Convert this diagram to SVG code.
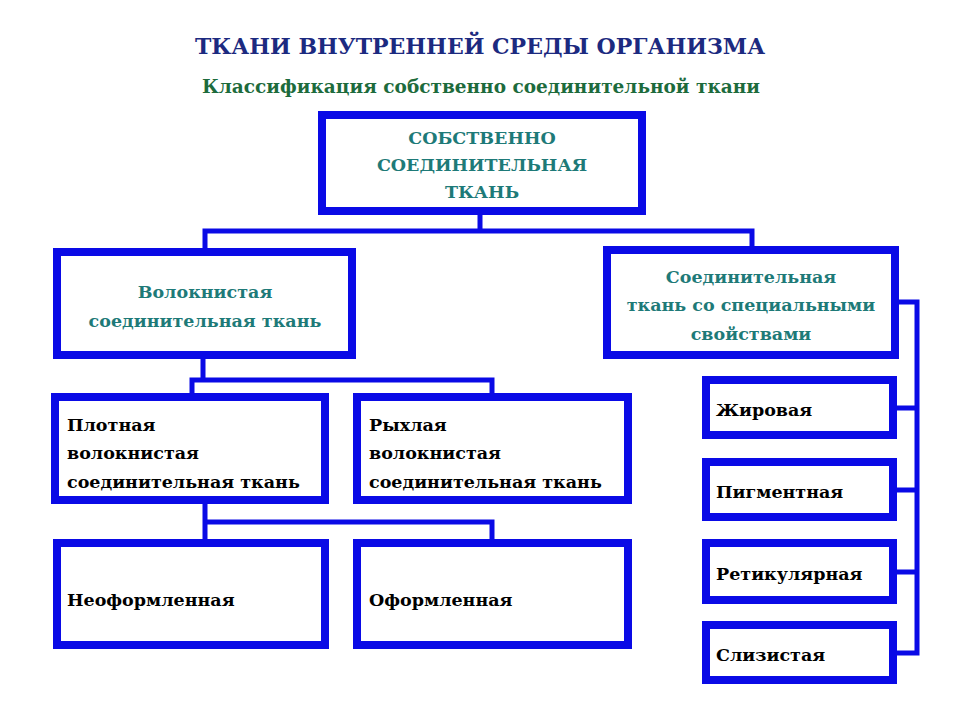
<svg xmlns="http://www.w3.org/2000/svg" width="960" height="720" viewBox="0 0 960 720">
<style>
.b{fill:#fff;stroke:#0a0ae6;stroke-width:8}
.c{fill:none;stroke:#0a0ae6;stroke-width:5}
text{font-family:"DejaVu Serif","Liberation Serif",serif;font-weight:bold;font-size:17.5px}
.t{fill:#1e7a78;text-anchor:middle}
.k{fill:#000}
</style>
<rect width="960" height="720" fill="#fff"/>
<text x="480" y="54" text-anchor="middle" style="font-size:22px" fill="#1c2a80">ТКАНИ ВНУТРЕННЕЙ СРЕДЫ ОРГАНИЗМА</text>
<text x="481" y="93" text-anchor="middle" style="font-size:18.5px" fill="#1d6b3c">Классификация собственно соединительной ткани</text>
<g id="connectors">
<path class="c" d="M480 211V231M205 250V231H752V250"/>
<path class="c" d="M203 355V380M192 397V380H492V397"/>
<path class="c" d="M205 500V522M205 543V522H492V543"/>
<path class="c" d="M895 302H917V653H893M893 408H917M893 490H917M893 572H917"/>
</g>
<g id="n1"><rect class="b" x="322" y="115" width="320" height="96"/>
<text class="t" x="482" y="144">СОБСТВЕННО</text><text class="t" x="482" y="171">СОЕДИНИТЕЛЬНАЯ</text><text class="t" x="482" y="198">ТКАНЬ</text></g>
<g id="n2"><rect class="b" x="57" y="252" width="295" height="103"/>
<text class="t" x="205" y="298">Волокнистая</text><text class="t" x="205" y="327">соединительная ткань</text></g>
<g id="n3"><rect class="b" x="607" y="250" width="288" height="105"/>
<text class="t" x="751" y="283">Соединительная</text><text class="t" x="751" y="311">ткань со специальными</text><text class="t" x="751" y="340">свойствами</text></g>
<g id="n4"><rect class="b" x="55" y="397" width="270" height="103"/>
<text class="k" x="67" y="431">Плотная</text><text class="k" x="67" y="459">волокнистая</text><text class="k" x="67" y="488">соединительная ткань</text></g>
<g id="n5"><rect class="b" x="357" y="397" width="271" height="103"/>
<text class="k" x="369" y="431">Рыхлая</text><text class="k" x="369" y="459">волокнистая</text><text class="k" x="369" y="488">соединительная ткань</text></g>
<g id="n6"><rect class="b" x="57" y="543" width="268" height="102"/>
<text class="k" x="67" y="606">Неоформленная</text></g>
<g id="n7"><rect class="b" x="357" y="543" width="271" height="102"/>
<text class="k" x="369" y="606">Оформленная</text></g>
<g id="n8"><rect class="b" x="706" y="380" width="187" height="55"/><text class="k" x="716" y="416">Жировая</text></g>
<g id="n9"><rect class="b" x="706" y="462" width="187" height="55"/><text class="k" x="716" y="498">Пигментная</text></g>
<g id="n10"><rect class="b" x="706" y="543" width="187" height="57"/><text class="k" x="716" y="580">Ретикулярная</text></g>
<g id="n11"><rect class="b" x="706" y="625" width="187" height="55"/><text class="k" x="716" y="661">Слизистая</text></g>
</svg>
